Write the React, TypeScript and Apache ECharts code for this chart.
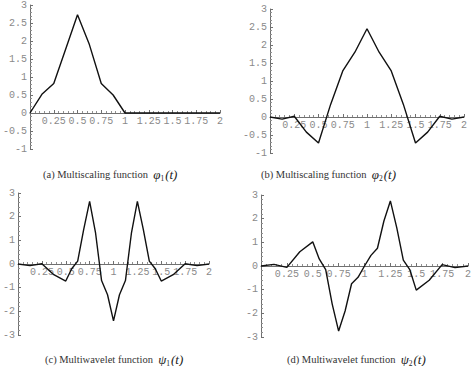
import React, { useEffect, useRef } from "react";
import * as echarts from "echarts";

const phi1X = [0, 0.125, 0.25, 0.375, 0.5, 0.625, 0.75, 0.875, 1, 1.25, 1.5, 1.75, 2];
const phi1Y = [0, 0.52, 0.82, 1.77, 2.73, 1.9, 0.82, 0.5, 0, 0, 0, 0, 0];

const phi2X = [0, 0.125, 0.25, 0.375, 0.5, 0.625, 0.75, 0.875, 1, 1.125, 1.25, 1.375, 1.5, 1.625, 1.75, 1.875, 2];
const phi2Y = [0, -0.06, 0.02, -0.42, -0.72, 0.35, 1.28, 1.8, 2.45, 1.8, 1.28, 0.35, -0.72, -0.42, 0.02, -0.06, 0];

const psi1X = [0, 0.125, 0.25, 0.375, 0.5, 0.5625, 0.625, 0.6875, 0.75, 0.8125, 0.875, 0.9375, 1, 1.0625, 1.125, 1.1875, 1.25, 1.3125, 1.375, 1.4375, 1.5, 1.625, 1.75, 1.875, 2];
const psi1Y = [0, -0.07, 0.01, -0.45, -0.72, -0.2, 0.12, 1.45, 2.65, 1.3, -0.7, -1.3, -2.4, -1.3, -0.7, 1.3, 2.65, 1.45, 0.12, -0.2, -0.72, -0.45, 0.01, -0.07, 0];

const psi2X = [0, 0.125, 0.25, 0.375, 0.5, 0.5625, 0.625, 0.6875, 0.75, 0.8125, 0.875, 0.9375, 1, 1.0625, 1.125, 1.1875, 1.25, 1.3125, 1.375, 1.4375, 1.5, 1.625, 1.75, 1.875, 2];
const psi2Y = [0, 0.07, -0.06, 0.6, 1.02, 0.3, -0.15, -1.6, -2.75, -1.9, -0.75, -0.48, 0, 0.45, 0.75, 1.9, 2.75, 1.6, 0.25, -0.15, -1.02, -0.6, 0.06, -0.07, 0];

const xTicks = { min: 0, max: 2, interval: 0.25 };
const yRangeTop = { min: -1, max: 3, interval: 0.5 };
const yRangeBottom = { min: -3, max: 3, interval: 1 };

const captions = [
  { head: "(a) Multiscaling function  ", sym: "φ", sub: "1" },
  { head: "(b) Multiscaling function  ", sym: "φ", sub: "2" },
  { head: "(c) Multiwavelet function  ", sym: "ψ", sub: "1" },
  { head: "(d) Multiwavelet function  ", sym: "ψ", sub: "2" },
];

const pairs = (xs: number[], ys: number[]) => xs.map((x, i) => [x, ys[i]]);

export default function App() {
  const ref = useRef<HTMLDivElement>(null);
  useEffect(() => {
    if (!ref.current) return;
    const chart = echarts.init(ref.current, undefined, { renderer: "svg" });
    const labelFont = {
      color: "#8a8a8a",
      fontFamily: "Liberation Mono",
      fontSize: 10,
    };
    const axisColor = "#707070";
    const grids = [
      { left: 26, top: 5, width: 194, height: 144 },
      { left: 270, top: 9, width: 194, height: 144 },
      { left: 15, top: 193, width: 194, height: 142 },
      { left: 261, top: 195, width: 210, height: 142 },
    ];
    const yRanges = [yRangeTop, yRangeTop, yRangeBottom, yRangeBottom];
    const xAxes = grids.map((g, i) => {
      const r = yRanges[i];
      const zeroFromBottom = (g.height * (0 - r.min)) / (r.max - r.min);
      return {
        type: "value",
        gridIndex: i,
        ...xTicks,
        position: "bottom",
        offset: -zeroFromBottom,
        axisLine: { onZero: false, lineStyle: { color: axisColor, width: 1 } },
        axisTick: { show: true, inside: true, length: 3, lineStyle: { color: axisColor } },
        minorTick: { show: true, splitNumber: 5, length: 2, lineStyle: { color: "#909090" } },
        splitLine: { show: false },
        axisLabel: {
          ...labelFont,
          margin: 3,
          formatter: (v: number) => (v === 0 ? "" : String(v)),
        },
      };
    });
    const yAxes = grids.map((_, i) => ({
      type: "value",
      gridIndex: i,
      ...yRanges[i],
      axisLine: { show: true, onZero: false, lineStyle: { color: axisColor, width: 1 } },
      axisTick: { show: true, inside: true, length: 3, lineStyle: { color: axisColor } },
      minorTick: { show: true, splitNumber: 5, length: 2, lineStyle: { color: "#909090" } },
      splitLine: { show: false },
      axisLabel: { ...labelFont, margin: 3, formatter: (v: number) => String(v) },
    }));
    const datasets = [
      pairs(phi1X, phi1Y),
      pairs(phi2X, phi2Y),
      pairs(psi1X, psi1Y),
      pairs(psi2X, psi2Y),
    ];
    const series = datasets.map((d, i) => ({
      type: "line",
      xAxisIndex: i,
      yAxisIndex: i,
      data: d,
      showSymbol: false,
      symbol: "none",
      lineStyle: { color: "#111", width: 1.4 },
      z: 5,
    }));
    const capPos = [
      { x: 43, y: 174 },
      { x: 261, y: 174 },
      { x: 45, y: 359 },
      { x: 287, y: 359 },
    ];
    const graphic = captions.map((c, i) => ({
      type: "text",
      x: capPos[i].x,
      y: capPos[i].y,
      style: {
        text: `{r|${c.head}}{m|${c.sym}}{s|${c.sub}}{m|(}{t|t}{m|)}`,
        verticalAlign: "middle",
        rich: {
          r: { fontFamily: "Liberation Serif", fontSize: 10.5, fill: "#333", lineHeight: 16, verticalAlign: "middle" },
          m: { fontFamily: "Liberation Serif", fontSize: 13, fontStyle: "italic", fill: "#222", lineHeight: 16, verticalAlign: "middle" },
          t: { fontFamily: "Liberation Serif", fontSize: 13, fontStyle: "italic", fill: "#222", lineHeight: 16, verticalAlign: "middle" },
          s: { fontFamily: "Liberation Serif", fontSize: 7.5, fill: "#222", lineHeight: 16, verticalAlign: "bottom", padding: [6, 1, 0, 0] },
        },
      },
    }));
    chart.setOption({
      animation: false,
      backgroundColor: "#ffffff",
      grid: grids,
      xAxis: xAxes,
      yAxis: yAxes,
      series,
      graphic,
    });
    return () => chart.dispose();
  }, []);
  return (
    <div
      ref={ref}
      style={{ position: "absolute", left: 0, top: 0, width: 474, height: 366 }}
    />
  );
}
